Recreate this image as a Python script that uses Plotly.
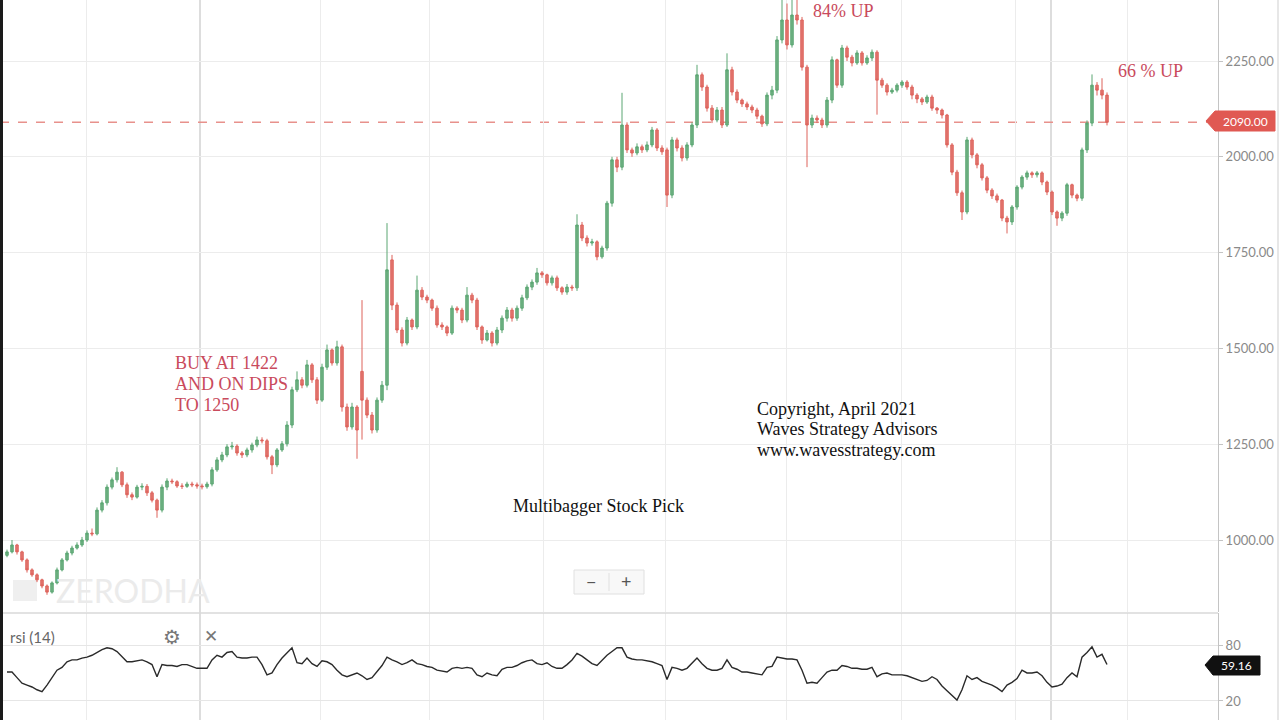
import plotly.graph_objects as go
from plotly.subplots import make_subplots

# ---------------- data ----------------
opens = [960, 969, 987, 969, 948, 922, 909, 896, 880, 864,
         888, 922, 948, 966, 979, 987, 1000, 1018, 1016, 1078,
         1097, 1138, 1157, 1177, 1144, 1118, 1112, 1138, 1140, 1123,
         1104, 1078, 1138, 1154, 1152, 1141, 1140, 1146, 1144, 1141,
         1139, 1146, 1183, 1209, 1222, 1243, 1245, 1227, 1222, 1235,
         1248, 1261, 1259, 1217, 1196, 1235, 1251, 1300, 1392, 1418,
         1404, 1457, 1418, 1365, 1451, 1496, 1462, 1504, 1347, 1295,
         1347, 1440, 1365, 1326, 1287, 1365, 1404, 1731, 1613, 1548,
         1514, 1574, 1556, 1652, 1634, 1626, 1605, 1561, 1556, 1540,
         1605, 1600, 1574, 1639, 1626, 1556, 1522, 1540, 1514, 1548,
         1579, 1600, 1579, 1605, 1632, 1660, 1673, 1697, 1692, 1671,
         1684, 1658, 1647, 1660, 1658, 1822, 1788, 1775, 1778, 1739,
         1762, 1879, 1992, 1973, 2083, 2018, 2010, 2026, 2018, 2031,
         2070, 2023, 2018, 1900, 2044, 2023, 1997, 2031, 2083, 2214,
         2182, 2127, 2096, 2122, 2083, 2227, 2169, 2148, 2138, 2130,
         2122, 2106, 2086, 2161, 2174, 2305, 2357, 2292, 2370, 2357,
         2234, 2083, 2101, 2096, 2083, 2148, 2253, 2187, 2284, 2260,
         2245, 2271, 2245, 2258, 2273, 2200, 2187, 2169, 2174, 2187,
         2195, 2182, 2161, 2151, 2143, 2156, 2127, 2122, 2109, 2031,
         1960, 1906, 1856, 2044, 2005, 1979, 1945, 1913, 1898, 1887,
         1840, 1830, 1869, 1921, 1947, 1958, 1953, 1958, 1934, 1908,
         1856, 1840, 1853, 1927, 1900, 1892, 2018, 2088, 2187, 2174,
         2161]

highs = [975, 1000, 990, 972, 952, 926, 913, 899, 884, 892,
         928, 953, 972, 985, 994, 1008, 1025, 1030, 1085, 1104,
         1145, 1163, 1190, 1180, 1150, 1124, 1144, 1148, 1146, 1128,
         1108, 1145, 1161, 1160, 1156, 1148, 1152, 1152, 1150, 1147,
         1152, 1190, 1216, 1230, 1250, 1256, 1250, 1232, 1241, 1254,
         1270, 1268, 1264, 1222, 1240, 1258, 1310, 1400, 1440, 1425,
         1470, 1462, 1425, 1460, 1510, 1500, 1520, 1510, 1356, 1358,
         1352, 1626, 1372, 1334, 1372, 1415, 1827, 1744, 1620, 1555,
         1582, 1578, 1690, 1660, 1640, 1630, 1612, 1568, 1560, 1612,
         1610, 1606, 1660, 1645, 1632, 1560, 1548, 1545, 1556, 1586,
         1608, 1606, 1612, 1640, 1667, 1680, 1710, 1702, 1695, 1690,
         1690, 1662, 1668, 1666, 1850, 1830, 1795, 1786, 1782, 1768,
         1885, 2000, 2000, 2167, 2090, 2024, 2035, 2032, 2040, 2078,
         2075, 2030, 2024, 2052, 2050, 2030, 2038, 2090, 2240, 2220,
         2188, 2135, 2130, 2130, 2270, 2235, 2176, 2152, 2144, 2136,
         2128, 2110, 2168, 2185, 2315, 2430, 2400, 2430, 2420, 2365,
         2240, 2110, 2108, 2102, 2156, 2262, 2256, 2292, 2290, 2266,
         2278, 2276, 2265, 2280, 2278, 2206, 2192, 2180, 2192, 2200,
         2200, 2188, 2166, 2156, 2162, 2162, 2130, 2126, 2112, 2036,
         1966, 1912, 2052, 2050, 2010, 1984, 1950, 1918, 1904, 1890,
         1846, 1874, 1926, 1952, 1964, 1962, 1963, 1962, 1938, 1912,
         1860, 1858, 1932, 1930, 1904, 2024, 2095, 2215, 2195, 2205,
         2168]

lows = [955, 965, 962, 943, 915, 904, 890, 874, 857, 860,
        884, 918, 944, 960, 975, 982, 995, 1010, 1012, 1072,
        1090, 1132, 1150, 1138, 1110, 1104, 1108, 1130, 1115, 1098,
        1058, 1072, 1130, 1146, 1136, 1133, 1136, 1138, 1134, 1132,
        1134, 1140, 1178, 1203, 1216, 1236, 1220, 1214, 1216, 1228,
        1242, 1252, 1210, 1172, 1190, 1230, 1244, 1292, 1386, 1396,
        1398, 1410, 1355, 1360, 1444, 1455, 1455, 1335, 1285, 1288,
        1212, 1262, 1318, 1278, 1280, 1358, 1391, 1600, 1540, 1505,
        1508, 1548, 1550, 1626, 1618, 1598, 1554, 1548, 1532, 1535,
        1592, 1566, 1568, 1618, 1548, 1512, 1518, 1505, 1508, 1540,
        1570, 1570, 1572, 1598, 1626, 1652, 1666, 1684, 1664, 1664,
        1650, 1640, 1640, 1650, 1650, 1780, 1766, 1768, 1730, 1734,
        1755, 1870, 1960, 1965, 2010, 2000, 2004, 2010, 2012, 2025,
        2015, 2005, 1869, 1892, 2014, 1988, 1990, 2025, 2075, 2172,
        2118, 2088, 2090, 2075, 2078, 2160, 2140, 2130, 2122, 2114,
        2098, 2078, 2080, 2150, 2166, 2296, 2280, 2285, 2345, 2225,
        1973, 2075, 2088, 2075, 2076, 2140, 2180, 2180, 2250, 2236,
        2240, 2238, 2240, 2250, 2110, 2180, 2160, 2164, 2168, 2180,
        2175, 2150, 2140, 2135, 2138, 2120, 2112, 2100, 2024, 1952,
        1898, 1835, 1850, 1996, 1970, 1938, 1905, 1890, 1880, 1832,
        1800, 1822, 1862, 1915, 1940, 1945, 1946, 1926, 1900, 1848,
        1820, 1832, 1846, 1892, 1884, 1885, 2010, 2080, 2160, 2150,
        2082]

closes = [969, 987, 969, 948, 922, 909, 896, 880, 864, 888,
          922, 948, 966, 979, 987, 1000, 1018, 1016, 1078, 1097,
          1138, 1157, 1177, 1144, 1118, 1112, 1138, 1140, 1123, 1104,
          1078, 1138, 1154, 1152, 1141, 1140, 1146, 1144, 1141, 1139,
          1146, 1183, 1209, 1222, 1243, 1245, 1227, 1222, 1235, 1248,
          1261, 1259, 1217, 1196, 1235, 1251, 1300, 1392, 1418, 1404,
          1457, 1418, 1365, 1451, 1496, 1462, 1504, 1347, 1295, 1347,
          1287, 1365, 1326, 1287, 1365, 1404, 1705, 1613, 1548, 1514,
          1574, 1556, 1652, 1634, 1626, 1605, 1561, 1556, 1540, 1605,
          1600, 1574, 1639, 1626, 1556, 1522, 1540, 1514, 1548, 1579,
          1600, 1579, 1605, 1632, 1660, 1673, 1697, 1692, 1671, 1684,
          1658, 1647, 1660, 1658, 1822, 1788, 1775, 1778, 1739, 1762,
          1879, 1992, 1973, 2083, 2018, 2010, 2026, 2018, 2031, 2070,
          2023, 2013, 1900, 2044, 2023, 1997, 2031, 2083, 2214, 2182,
          2127, 2096, 2122, 2083, 2227, 2169, 2148, 2138, 2130, 2122,
          2106, 2086, 2161, 2174, 2305, 2357, 2292, 2370, 2357, 2234,
          2083, 2101, 2096, 2083, 2148, 2253, 2187, 2284, 2260, 2245,
          2271, 2245, 2258, 2273, 2200, 2187, 2169, 2174, 2187, 2195,
          2182, 2161, 2151, 2143, 2156, 2127, 2122, 2109, 2031, 1960,
          1906, 1856, 2044, 2005, 1979, 1945, 1913, 1898, 1887, 1840,
          1830, 1869, 1921, 1947, 1958, 1953, 1958, 1934, 1908, 1856,
          1840, 1853, 1927, 1900, 1892, 2018, 2088, 2187, 2174, 2161,
          2090]

rsi_values = [51, 51, 45, 39, 37, 35, 32, 30, 37, 45,
              53, 56, 62, 64, 64, 66, 67, 69, 72, 75,
              77, 76, 73, 67, 62, 62, 63, 64, 62, 59,
              46, 59, 58, 58, 57, 59, 59, 57, 55, 55,
              55, 64, 69, 67, 72, 73, 67, 66, 66, 67,
              67, 59, 48, 50, 59, 66, 72, 77, 61, 60,
              66, 60, 57, 63, 62, 59, 53, 48, 46, 48,
              50, 47, 43, 45, 51, 58, 67, 64, 62, 59,
              61, 64, 60, 59, 57, 56, 53, 52, 51, 55,
              56, 55, 56, 55, 48, 46, 50, 48, 47, 54,
              56, 56, 58, 61, 63, 64, 60, 59, 61, 57,
              55, 55, 59, 64, 71, 68, 64, 60, 58, 64,
              69, 73, 77, 77, 67, 65, 64, 64, 63, 62,
              60, 58, 43, 56, 55, 53, 55, 61, 66, 60,
              55, 53, 53, 55, 64, 56, 54, 51, 51, 50,
              49, 48, 56, 57, 67, 66, 65, 65, 64, 53,
              39, 40, 39, 45, 51, 53, 53, 58, 57, 55,
              55, 54, 54, 56, 46, 49, 50, 48, 48, 48,
              47, 45, 43, 41, 42, 46, 43, 36, 31, 26,
              21, 32, 47, 43, 45, 41, 39, 37, 34, 30,
              37, 40, 44, 53, 50, 50, 51, 47, 40, 35,
              36, 38, 45, 50, 46, 67, 72, 78, 67, 70,
              59.16]

price_ticks = [1000, 1250, 1500, 1750, 2000, 2250]
price_tick_labels = ["1000.00", "1250.00", "1500.00", "1750.00", "2000.00", "2250.00"]
rsi_ticks = [20, 80]
rsi_tick_labels = ["20", "80"]
# vertical grid positions, in candle-index units
minor_grid = [15.8, 62.6, 84.4, 107.2, 131.6, 155.8, 178.8, 201.6, 224.0]
major_grid = [38.6, 208.8]
last_price = 2090.00
last_rsi = 59.16

assert len(opens) == len(highs) == len(lows) == len(closes) == len(rsi_values)
idx = list(range(len(closes)))

# ---------------- layout helpers (pixel -> paper) ----------------
W, H = 1280, 720
PLOT_W = 1218
def px(x):
    return x / PLOT_W
def py(y):
    return 1 - y / H

SERIF = "Liberation Serif, Times New Roman, serif"
SANS = "Lato, Open Sans, sans-serif"
RED_TXT = "#c94a5c"

fig = make_subplots(rows=2, cols=1, shared_xaxes=True, vertical_spacing=0)

fig.add_trace(go.Candlestick(
    x=idx, open=opens, high=highs, low=lows, close=closes,
    increasing=dict(line=dict(color="#5aa672", width=1), fillcolor="#6fb283"),
    decreasing=dict(line=dict(color="#dd625b", width=1), fillcolor="#e2766f"),
    whiskerwidth=0, showlegend=False, hoverinfo="skip"), row=1, col=1)

fig.add_trace(go.Scatter(
    x=idx, y=rsi_values, mode="lines",
    line=dict(color="#2a2a2a", width=1.4),
    showlegend=False, hoverinfo="skip"), row=2, col=1)

xr = [-1.4, 242.2]
for ax in ("xaxis", "xaxis2"):
    fig.layout[ax].update(range=xr, tickvals=minor_grid, showticklabels=False,
                          showgrid=True, gridcolor="#ececec", gridwidth=1,
                          ticks="", zeroline=False, showline=False,
                          rangeslider=dict(visible=False))

fig.update_layout(
    yaxis=dict(domain=[1 - 612 / H, 1], range=[812.1, 2409.2], side="right",
               tickvals=price_ticks, ticktext=price_tick_labels,
               tickfont=dict(family=SANS, size=13, color="#8a8a8a"),
               showgrid=True, gridcolor="#ececec", zeroline=False,
               showline=True, linecolor="#c4c4c4", linewidth=1,
               ticks="outside", ticklen=4, tickcolor="#c4c4c4"),
    yaxis2=dict(domain=[0, 1 - 613 / H], range=[-0.4, 114.3], side="right",
                tickvals=rsi_ticks, ticktext=rsi_tick_labels,
                tickfont=dict(family=SANS, size=13, color="#8a8a8a"),
                showgrid=True, gridcolor="#e6e6e6", zeroline=False,
                showline=True, linecolor="#c4c4c4", linewidth=1,
                ticks="outside", ticklen=4, tickcolor="#c4c4c4"),
    width=W, height=H,
    margin=dict(l=0, r=W - PLOT_W, t=0, b=0),
    paper_bgcolor="white", plot_bgcolor="white",
    hovermode=False,
)

shapes = []
# darker vertical grid lines
for g in major_grid:
    shapes.append(dict(type="line", xref="x", yref="paper", x0=g, x1=g, y0=0, y1=1,
                       line=dict(color="#d2d2d2", width=1.5), layer="below"))
# panel separator
shapes.append(dict(type="line", xref="paper", yref="paper", x0=0, x1=1,
                   y0=py(613), y1=py(613), line=dict(color="#d8d8d8", width=1.5)))
# left dark edge and right border
shapes.append(dict(type="rect", xref="paper", yref="paper", x0=0, x1=px(3), y0=0, y1=1,
                   fillcolor="#1a1a1a", line=dict(width=0)))
shapes.append(dict(type="line", xref="paper", yref="paper", x0=px(1278), x1=px(1278), y0=0, y1=1,
                   line=dict(color="#cfcfcf", width=1)))
# last price dashed line
shapes.append(dict(type="line", xref="paper", yref="y", x0=0, x1=px(1207),
                   y0=last_price, y1=last_price,
                   line=dict(color="#e8918c", width=1.5, dash="dash"), layer="below"))
# last price tag
shapes.append(dict(type="path", xref="paper", yref="paper",
                   path=f"M {px(1206)},{py(121)} L {px(1215)},{py(111)} L {px(1275)},{py(111)} "
                        f"L {px(1275)},{py(131)} L {px(1215)},{py(131)} Z",
                   fillcolor="#e05953", line=dict(color="#e05953", width=1)))
# RSI tag
shapes.append(dict(type="path", xref="paper", yref="paper",
                   path=f"M {px(1205)},{py(665)} L {px(1213)},{py(656)} L {px(1260)},{py(656)} "
                        f"L {px(1260)},{py(675)} L {px(1213)},{py(675)} Z",
                   fillcolor="#111111", line=dict(color="#111111", width=1)))
# zerodha logo block
shapes.append(dict(type="rect", xref="paper", yref="paper", x0=px(13), x1=px(37),
                   y0=py(601), y1=py(580), fillcolor="#efefef", line=dict(width=0), layer="below"))
# zoom buttons
shapes.append(dict(type="rect", xref="paper", yref="paper", x0=px(574), x1=px(644),
                   y0=py(594), y1=py(570), fillcolor="#f8f8f8",
                   line=dict(color="#e0e0e0", width=1)))
shapes.append(dict(type="line", xref="paper", yref="paper", x0=px(609), x1=px(609),
                   y0=py(591), y1=py(573), line=dict(color="#e0e0e0", width=1)))
fig.update_layout(shapes=shapes)

ann = []
def text(t, x, y, size, color, family, xanchor="left", **kw):
    ann.append(dict(text=t, x=px(x), y=py(y), xref="paper", yref="paper",
                    xanchor=xanchor, yanchor="middle", showarrow=False,
                    font=dict(size=size, color=color, family=family), **kw))

text("84% UP", 811, 11, 18, RED_TXT, SERIF)
text("66 % UP", 1116, 71, 18, RED_TXT, SERIF)
text("BUY AT 1422", 173, 363, 18, RED_TXT, SERIF)
text("AND ON DIPS", 173, 384, 18, RED_TXT, SERIF)
text("TO 1250", 173, 405, 18, RED_TXT, SERIF)
text("Copyright, April 2021", 755, 409, 18, "#111111", SERIF)
text("Waves Strategy Advisors", 755, 429, 18, "#111111", SERIF)
text("www.wavesstrategy.com", 755, 450, 18, "#111111", SERIF)
text("Multibagger Stock Pick", 511, 506, 18, "#111111", SERIF)
text("ZERODHA", 54, 590, 32, "#ebebeb", SANS)
text("−", 591, 581, 18, "#555555", SANS, xanchor="center")
text("+", 626, 581, 18, "#555555", SANS, xanchor="center")
text("rsi (14)", 8, 637, 15, "#666666", SANS)
text("⚙", 172, 637, 20, "#777777", "DejaVu Sans", xanchor="center")
text("✕", 211, 636, 17, "#777777", "DejaVu Sans", xanchor="center")
text(f"{last_price:.2f}", 1245, 121, 12, "#ffffff", SANS, xanchor="center")
text(f"{last_rsi:.2f}", 1236, 665.5, 12, "#ffffff", SANS, xanchor="center")
fig.update_layout(annotations=ann)

fig.write_html("out.html", config={"displayModeBar": False},
               post_script="document.body.style.margin='0';document.body.style.overflow='hidden';")
